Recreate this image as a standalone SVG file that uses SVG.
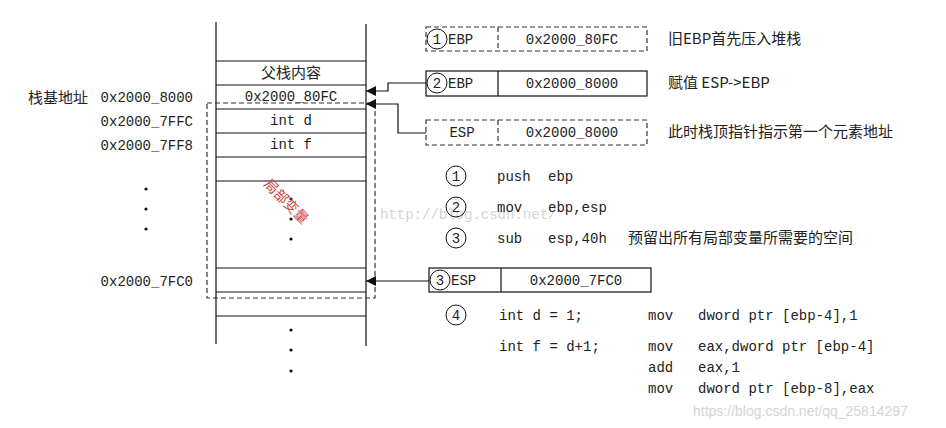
<svg xmlns="http://www.w3.org/2000/svg" width="946" height="428" viewBox="0 0 946 428">
<defs>
<style>
text{font-family:"Liberation Mono","Noto Sans CJK SC",monospace;font-size:14px;fill:#222}
.cn{font-family:"Noto Sans CJK SC",sans-serif;font-size:15px}
.l{stroke:#111;stroke-width:1.2;fill:none}
.d{stroke:#333;stroke-width:1.2;fill:none;stroke-dasharray:5,3}
.c{stroke:#111;stroke-width:1;fill:none}
.m{text-anchor:middle}
.e{text-anchor:end}
.wm{fill:#d4d4d4;font-size:14px}
</style>
<marker id="ar" viewBox="0 0 10 10" refX="10" refY="5" markerWidth="10" markerHeight="10" markerUnits="userSpaceOnUse" orient="auto"><path d="M0,0L10,5L0,10z" fill="#111"/></marker>
</defs>
<rect width="946" height="428" fill="#fff"/>
<text class="wm" x="380" y="219">http://blog.csdn.net/</text>
<text class="wm" x="693" y="416" style="font-family:'Liberation Sans',sans-serif">https://blog.csdn.net/qq_25814297</text>
<g id="stack">
<path class="l" d="M216,22V344M366,24V346M216,61H366M216,85H366M216,109H366M216,133H366M216,157H366M216,181H366M216,268H366M216,292H366M216,316H366"/>
<text class="m cn" x="291" y="78">父栈内容</text>
<text class="m" x="291" y="101">0x2000_80FC</text>
<text class="m" x="291" y="125">int d</text>
<text class="m" x="291" y="149">int f</text>
<g fill="#111"><circle cx="291" cy="199" r="1.6"/><circle cx="291" cy="219" r="1.6"/><circle cx="291" cy="239" r="1.6"/><circle cx="291" cy="330" r="1.6"/><circle cx="291" cy="350" r="1.6"/><circle cx="291" cy="371" r="1.6"/><circle cx="146" cy="189" r="1.6"/><circle cx="146" cy="209" r="1.6"/><circle cx="146" cy="229" r="1.6"/></g>
</g>
<g id="local">
<rect class="d" x="207" y="103" width="168" height="195"/>
<text class="cn" x="0" y="0" transform="translate(263,185) rotate(45)" style="fill:#d04040;font-size:14px">局部变量</text>
</g>
<g id="addr">
<text class="cn" x="28" y="103">栈基地址</text>
<text class="e" x="193" y="102">0x2000_8000</text>
<text class="e" x="193" y="126">0x2000_7FFC</text>
<text class="e" x="193" y="150">0x2000_7FF8</text>
<text class="e" x="193" y="286">0x2000_7FC0</text>
</g>
<g id="box1">
<rect class="d" x="426" y="27" width="221" height="24"/><path class="d" d="M498,27V51"/>
<circle class="c" cx="437" cy="39" r="10"/><text class="m" x="437" y="44">1</text><text x="448" y="44">EBP</text>
<text class="m" x="572" y="44">0x2000_80FC</text>
<text class="cn" x="668" y="44">旧EBP首先压入堆栈</text>
</g>
<g id="box2">
<rect class="l" x="426" y="71" width="221" height="25"/><path class="l" d="M498,71V96"/>
<circle class="c" cx="437" cy="83" r="10"/><text class="m" x="437" y="88">2</text><text x="448" y="88">EBP</text>
<text class="m" x="572" y="88">0x2000_8000</text>
<text class="cn" x="668" y="88">赋值 ESP-&gt;EBP</text>
</g>
<g id="box3">
<rect class="d" x="426" y="120" width="221" height="25"/><path class="d" d="M498,120V145"/>
<text class="m" x="462" y="137">ESP</text>
<text class="m" x="572" y="137">0x2000_8000</text>
<text class="cn" x="668" y="137">此时栈顶指针指示第一个元素地址</text>
</g>
<g id="box4">
<rect class="l" x="429" y="268" width="222" height="24"/><path class="l" d="M501,268V292"/>
<circle class="c" cx="440" cy="280" r="10"/><text class="m" x="440" y="285">3</text><text x="451" y="285">ESP</text>
<text class="m" x="576" y="285">0x2000_7FC0</text>
</g>
<g id="code">
<circle class="c" cx="456" cy="176" r="10"/><text class="m" x="456" y="181">1</text>
<circle class="c" cx="456" cy="207" r="10"/><text class="m" x="456" y="212">2</text>
<circle class="c" cx="456" cy="238" r="10"/><text class="m" x="456" y="243">3</text>
<circle class="c" cx="456" cy="315" r="10"/><text class="m" x="456" y="320">4</text>
<text x="497" y="181">push</text><text x="548" y="181">ebp</text>
<text x="497" y="212">mov</text><text x="548" y="212">ebp,esp</text>
<text x="497" y="243">sub</text><text x="548" y="243">esp,40h</text>
<text class="cn" x="628" y="243">预留出所有局部变量所需要的空间</text>
<text x="499" y="320">int d = 1;</text><text x="648" y="320">mov</text><text x="698" y="320">dword ptr [ebp-4],1</text>
<text x="499" y="351">int f = d+1;</text><text x="648" y="351">mov</text><text x="698" y="351">eax,dword ptr [ebp-4]</text>
<text x="648" y="372">add</text><text x="698" y="372">eax,1</text>
<text x="648" y="393">mov</text><text x="698" y="393">dword ptr [ebp-8],eax</text>
</g>
<g id="connectors">
<path class="l" d="M426,83H388V91H366" marker-end="url(#ar)"/>
<path class="l" d="M426,133H398V104H366" marker-end="url(#ar)"/>
<path class="l" d="M429,281H366" marker-end="url(#ar)"/>
</g>
</svg>
